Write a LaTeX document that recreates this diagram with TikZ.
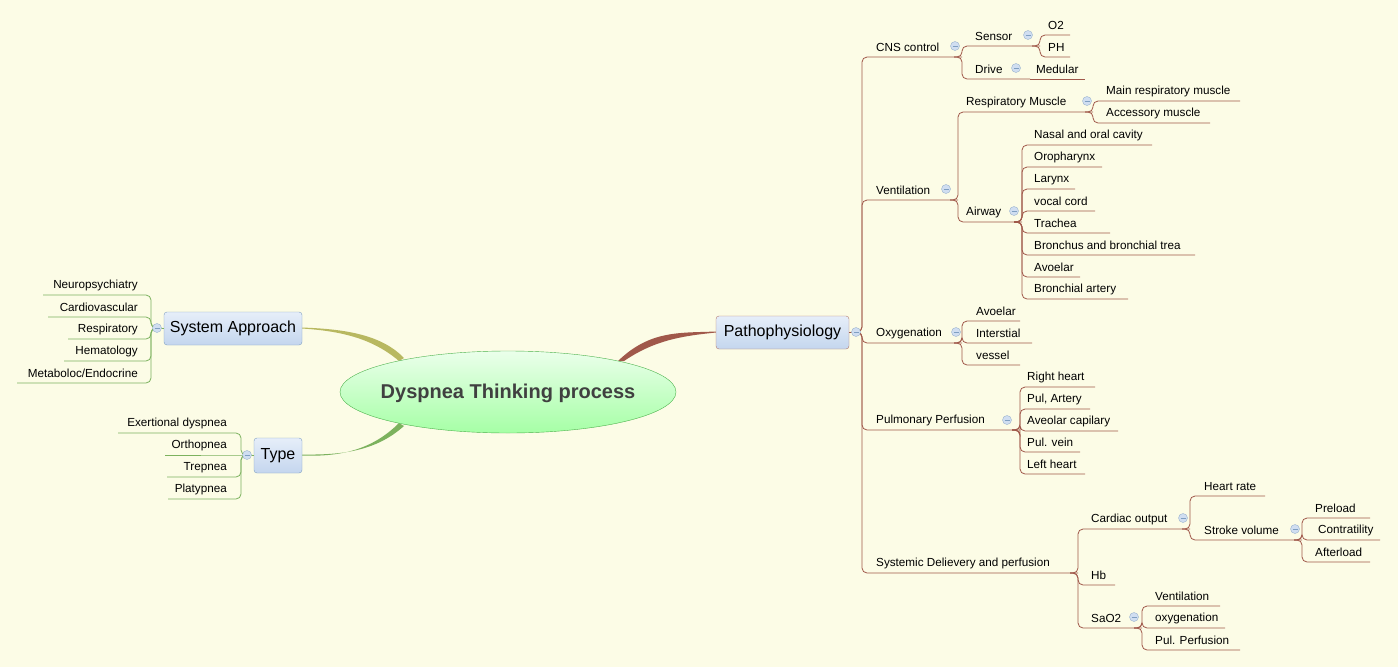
\documentclass[tikz,border=0pt]{standalone}
\usepackage{fontspec}
\setmainfont{Liberation Sans}
\usetikzlibrary{shapes.geometric}
\begin{document}
\begin{tikzpicture}[x=1pt,y=-1pt,
  lf/.style={inner sep=0pt,font=\fontsize{11.7}{13}\selectfont},
  br/.style={draw=brn,line width=0.8pt},
  gr/.style={draw=grn,line width=0.8pt},
  box/.style={draw=boxb,rounded corners=3pt,top color=boxt,bottom color=boxf,inner sep=0pt,font=\fontsize{16}{18}\selectfont}]
\definecolor{bg}{HTML}{FCFCE6}
\definecolor{brn}{HTML}{A0584A}
\definecolor{grn}{HTML}{7CB25E}
\definecolor{olv}{HTML}{B8B860}
\definecolor{boxb}{HTML}{7F9FC2}
\definecolor{boxt}{HTML}{E6EEF9}
\definecolor{boxf}{HTML}{C4D6EE}
\fill[bg] (0,0) rectangle (1398,667);
\useasboundingbox (0,0) rectangle (1398,667);
\newcommand\ch[8]{\node[lf,anchor=west] (#1) at (#4,{#5+1.5}) {#7};
 \draw[#8,rounded corners=5pt] ({#2-8},#3) -- (#2,#3) -- (#2,{#5+11}) -- (#6,{#5+11});}
\newcommand\lch[7]{\node[lf,anchor=east] (#1) at (138,{#5+1.5}) {#7};
 \draw[gr,rounded corners=5pt] ({#2+8},#3) -- (#2,#3) -- (#2,{#5+11}) -- (#6,{#5+11});}
\newcommand\mc[2]{\draw[draw=boxb!80,fill=boxf!80,line width=0.4pt] (#1,#2) circle (4.5);
 \draw[boxb,line width=0.6pt] ({#1-2.5},#2) -- ({#1+2.5},#2);}
% centre connectors
\fill[brn] (618,361) .. controls (650,330) and (680,333) .. (716,331.5) -- (716,332.5) .. controls (682,336) and (655,340) .. (624,361) -- cycle;
\fill[olv] (404,358) .. controls (380,333) and (340,329) .. (302,327.5) -- (302,328.5) .. controls (340,331) and (372,338) .. (399,361) -- cycle;
\fill[grn] (404,426) .. controls (375,452) and (340,455) .. (302,454.5) -- (302,455.5) .. controls (340,457) and (372,450) .. (399,423) -- cycle;
\path[draw=green!40!gray,top color=green!8!white,bottom color=green!35!white] (508,392) ellipse [x radius=168,y radius=41];
\node[font=\bfseries\fontsize{20}{22}\selectfont,text=black!75,inner sep=0pt] (root) at (508,393) {Dyspnea Thinking process};
% boxes
\node[box,draw=brn!80,minimum width=133,minimum height=33] (patho) at (782.5,332.5) {Pathophysiology};
\node[box,minimum width=138,minimum height=33] (sys) at (233,328.5) {System Approach};
\node[box,minimum width=48,minimum height=35] (type) at (278,455.5) {Type};
% level 1
\draw[br] (patho.east) -- (856,332);
\ch{cns}{862}{332}{876}{46}{962}{CNS control}{br}
\ch{vent}{862}{332}{876}{189}{958}{Ventilation}{br}
\ch{oxy}{862}{332}{876}{332}{962}{Oxygenation}{br}
\ch{pp}{862}{332}{876}{419}{1020}{Pulmonary Perfusion}{br}
\ch{sd}{862}{332}{876}{562}{1078}{Systemic Delievery and perfusion}{br}
% CNS
\ch{sensor}{962}{57}{975}{35}{1040}{Sensor}{br}
\ch{drive}{962}{57}{975}{68}{1030}{Drive}{br}
\ch{o2}{1040}{46}{1048}{24}{1070}{O2}{br}
\ch{ph}{1040}{46}{1048}{46}{1070}{PH}{br}
\node[lf,anchor=west] (medular) at (1036,69.5) {Medular};
\draw[br] (1030,79) -- (1085,79);
% Ventilation
\ch{rm}{958}{200}{966}{101}{1093}{Respiratory Muscle}{br}
\ch{aw}{958}{200}{966}{211}{1022}{Airway}{br}
\ch{mrm}{1093}{112}{1106}{90}{1240}{Main respiratory muscle}{br}
\ch{am}{1093}{112}{1106}{112}{1210}{Accessory muscle}{br}
\ch{a1}{1022}{222}{1034}{134}{1152}{Nasal and oral cavity}{br}
\ch{a2}{1022}{222}{1034}{156}{1102}{Oropharynx}{br}
\ch{a3}{1022}{222}{1034}{178}{1075}{Larynx}{br}
\ch{a4}{1022}{222}{1034}{200}{1095}{vocal cord}{br}
\ch{a5}{1022}{222}{1034}{222}{1110}{Trachea}{br}
\ch{a6}{1022}{222}{1034}{244}{1195}{Bronchus and bronchial trea}{br}
\ch{a7}{1022}{222}{1034}{266}{1080}{Avoelar}{br}
\ch{a8}{1022}{222}{1034}{288}{1128}{Bronchial artery}{br}
% Oxygenation
\ch{o1}{962}{343}{976}{310}{1020}{Avoelar}{br}
\ch{o2b}{962}{343}{976}{332}{1032}{Interstial}{br}
\ch{o3}{962}{343}{976}{354}{1020}{vessel}{br}
% Pulmonary perfusion
\ch{p1}{1020}{430}{1027}{376}{1095}{Right heart}{br}
\ch{p2}{1020}{430}{1027}{398}{1090}{Pul, Artery}{br}
\ch{p3}{1020}{430}{1027}{420}{1118}{Aveolar capilary}{br}
\ch{p4}{1020}{430}{1027}{441}{1080}{Pul. vein}{br}
\ch{p5}{1020}{430}{1027}{463}{1085}{Left heart}{br}
% Systemic
\ch{co}{1078}{573}{1091}{518}{1190}{Cardiac output}{br}
\ch{hb}{1078}{573}{1091}{574}{1115}{Hb}{br}
\ch{sao}{1078}{573}{1091}{617}{1142}{SaO2}{br}
\ch{hr}{1190}{529}{1204}{485}{1265}{Heart rate}{br}
\ch{sv}{1190}{529}{1204}{529}{1302}{Stroke volume}{br}
\ch{pre}{1302}{540}{1315}{507}{1370}{Preload}{br}
\ch{con}{1302}{540}{1318}{529}{1380}{Contratility}{br}
\ch{aft}{1302}{540}{1315}{551}{1370}{Afterload}{br}
\ch{s1}{1142}{628}{1155}{595}{1220}{Ventilation}{br}
\ch{s2}{1142}{628}{1155}{617}{1225}{oxygenation}{br}
\ch{s3}{1142}{628}{1155}{639}{1240}{Pul. Perfusion}{br}
% Left
\draw[gr] (sys.west) -- (157,328);
\lch{l1}{151}{328}{138}{284}{43}{Neuropsychiatry}
\lch{l2}{151}{328}{138}{306}{48}{Cardiovascular}
\lch{l3}{151}{328}{138}{328}{68}{Respiratory}
\lch{l4}{151}{328}{138}{350}{64}{Hematology}
\lch{l5}{151}{328}{138}{372}{17}{Metaboloc/Endocrine}
\draw[gr] (type.west) -- (247,455);
\node[lf,anchor=east] (t1) at (227,423.5) {Exertional dyspnea};
\draw[gr,rounded corners=5pt] (249,455) -- (241,455) -- (241,433) -- (118,433);
\node[lf,anchor=east] (t2) at (227,445.5) {Orthopnea};
\draw[gr,rounded corners=5pt] (249,455) -- (241,455) -- (165,455);
\node[lf,anchor=east] (t3) at (227,467.5) {Trepnea};
\draw[gr,rounded corners=5pt] (249,455) -- (241,455) -- (241,477) -- (167,477);
\node[lf,anchor=east] (t4) at (227,489.5) {Platypnea};
\draw[gr,rounded corners=5pt] (249,455) -- (241,455) -- (241,499) -- (168,499);
% collapse markers
\mc{856}{332}\mc{955}{46}\mc{946}{189}\mc{956}{332}\mc{1007}{420}
\mc{1028}{35}\mc{1016}{68}\mc{1087}{101}\mc{1014}{211}
\mc{1183}{518}\mc{1134}{617}\mc{1295}{529}
\mc{157}{328}\mc{247}{455}
\end{tikzpicture}
\end{document}
